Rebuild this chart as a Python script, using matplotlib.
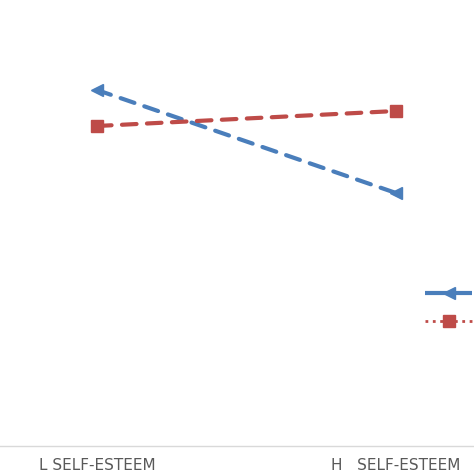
import matplotlib.pyplot as plt
from matplotlib.lines import Line2D

categories = ["L SELF-ESTEEM", "H   SELF-ESTEEM"]
blue_values = [3.56, 2.53]
red_values = [3.20, 3.35]

blue = "#4A7EBB"
red = "#BE4B48"

fig = plt.figure(figsize=(4.74, 4.74), dpi=100)
ax = fig.add_axes([0, 28 / 474, 1, 1 - 28 / 474])

x = range(len(categories))
ax.plot(x, blue_values, color=blue, lw=3, dashes=(3.5, 2.5), marker="<", ms=9,
        mfc=blue, mec=blue, dash_capstyle="round")
ax.plot(x, red_values, color=red, lw=3, dashes=(3.5, 2.5), marker="s", ms=9,
        mfc=red, mec=red, dash_capstyle="round")

ax.set_xlim(-97 / 299, (474 - 97) / 299)
ax.set_ylim(0, 4.46)
ax.set_xticks(list(x))
ax.set_xticklabels(categories, color="#595959", fontsize=11, family="DejaVu Sans")
ax.tick_params(axis="x", length=0, pad=9)
ax.set_yticks([])
for side in ["top", "right", "left"]:
    ax.spines[side].set_visible(False)
ax.spines["bottom"].set_color("#D9D9D9")
ax.spines["bottom"].set_linewidth(1)

# legend sits at the right edge, its labels fall outside the picture
handles = [
    Line2D([], [], color=blue, lw=3, dashes=(6, 1), marker="<", ms=9, mfc=blue, mec=blue),
    Line2D([], [], color=red, lw=2, linestyle=":", marker="s", ms=9, mfc=red, mec=red),
]
ax.legend(handles, ["", ""], loc="center left", bbox_to_anchor=(418 / 474 - 0.012, 0.311),
          frameon=False, handlelength=3.2, fontsize=10.5, labelspacing=0.9)

fig.savefig("out.png", dpi=100)
